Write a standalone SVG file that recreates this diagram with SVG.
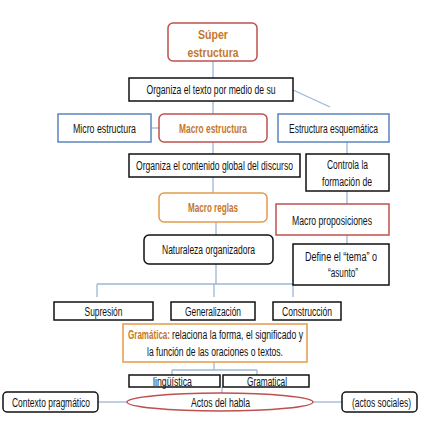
<svg xmlns="http://www.w3.org/2000/svg" width="426" height="426" viewBox="0 0 426 426">
<style>
text{font-family:"Liberation Sans",Arial,sans-serif;font-size:12.5px;fill:#111;text-anchor:middle}
.or{fill:#c5772d;font-weight:bold}
.st{text-anchor:start}
.bk{fill:#fff;stroke:#111;stroke-width:1.5}
.bl{fill:#fff;stroke:#5b84bd;stroke-width:1.5}
.rd{fill:#fff;stroke:#c0504d;stroke-width:1.5}
.og{fill:#fff;stroke:#e39a4c;stroke-width:1.5}
.c{stroke:#9db6d6;stroke-width:1.3;fill:none}
</style>
<rect width="426" height="426" fill="#fff"/>
<g id="connectors">
<line class="c" x1="213" y1="61" x2="213" y2="78"/>
<line class="c" x1="293" y1="90" x2="330" y2="107"/>
<line class="c" x1="213" y1="101" x2="213" y2="114"/>
<line class="c" x1="151" y1="128" x2="159" y2="128"/>
<line class="c" x1="213" y1="142" x2="213" y2="154"/>
<line class="c" x1="213" y1="177" x2="213" y2="193"/>
<line class="c" x1="347" y1="142" x2="347" y2="154"/>
<line class="c" x1="347" y1="191" x2="347" y2="204"/>
<line class="c" x1="347" y1="235" x2="347" y2="244"/>
<line class="c" x1="216" y1="222" x2="216" y2="284"/>
<line class="c" x1="97" y1="284" x2="293" y2="284"/>
<line class="c" x1="97" y1="284" x2="97" y2="297"/>
<line class="c" x1="214" y1="284" x2="214" y2="297"/>
<line class="c" x1="293" y1="284" x2="293" y2="297"/>
<line class="c" x1="214" y1="362" x2="214" y2="370"/>
<line class="c" x1="172" y1="370" x2="257" y2="370"/>
<line class="c" x1="172" y1="370" x2="172" y2="375"/>
<line class="c" x1="257" y1="370" x2="257" y2="375"/>
<line class="c" x1="222" y1="387" x2="222" y2="393"/>
<line class="c" x1="98" y1="402" x2="127" y2="402"/>
<line class="c" x1="313" y1="402" x2="342" y2="402"/>
</g>
<g id="super">
<rect class="rd" x="168" y="23" width="89" height="38" rx="5"/>
<text class="or" x="213" y="39" font-size="15" textLength="30" lengthAdjust="spacingAndGlyphs">Súper</text>
<text class="or" x="213" y="57" font-size="15" textLength="51" lengthAdjust="spacingAndGlyphs">estructura</text>
</g>
<g id="organiza">
<rect class="bk" x="129" y="78" width="164" height="23"/>
<text x="211" y="94" textLength="129" lengthAdjust="spacingAndGlyphs">Organiza el texto por medio de su</text>
</g>
<g id="micro">
<rect class="bl" x="58" y="114" width="93" height="28"/>
<text x="104.5" y="132.5" textLength="63" lengthAdjust="spacingAndGlyphs">Micro estructura</text>
</g>
<g id="macro">
<rect class="rd" x="159" y="114" width="108" height="28" rx="5"/>
<text class="or" x="213" y="132.5" textLength="68" lengthAdjust="spacingAndGlyphs">Macro estructura</text>
</g>
<g id="esquematica">
<rect class="bl" x="278" y="114" width="111" height="28"/>
<text x="333.5" y="132.5" textLength="89" lengthAdjust="spacingAndGlyphs">Estructura esquemática</text>
</g>
<g id="contenido">
<rect class="bk" x="129" y="154" width="171" height="23"/>
<text x="214.5" y="170" textLength="157" lengthAdjust="spacingAndGlyphs">Organiza el contenido global del discurso</text>
</g>
<g id="controla">
<rect class="bk" x="306" y="154" width="83" height="37"/>
<text x="347.5" y="168.5" font-size="12" textLength="41" lengthAdjust="spacingAndGlyphs">Controla la</text>
<text x="347" y="186" font-size="12" textLength="50" lengthAdjust="spacingAndGlyphs">formación de</text>
</g>
<g id="reglas">
<rect class="og" x="159" y="193" width="108" height="29" rx="5"/>
<text class="or" x="213" y="212" textLength="50" lengthAdjust="spacingAndGlyphs">Macro reglas</text>
</g>
<g id="proposiciones">
<rect class="rd" x="276" y="204" width="113" height="31"/>
<text x="332" y="225" textLength="80" lengthAdjust="spacingAndGlyphs">Macro proposiciones</text>
</g>
<g id="naturaleza">
<rect class="bk" x="144" y="235" width="129" height="29" rx="5"/>
<text x="208.5" y="254" textLength="93" lengthAdjust="spacingAndGlyphs">Naturaleza organizadora</text>
</g>
<g id="define">
<rect class="bk" x="293" y="244" width="96" height="41"/>
<text x="341" y="261" textLength="72" lengthAdjust="spacingAndGlyphs">Define el “tema” o</text>
<text x="343" y="277" textLength="30" lengthAdjust="spacingAndGlyphs">“asunto”</text>
</g>
<g id="supresion">
<rect class="bk" x="54" y="302" width="99" height="18"/>
<text x="103.5" y="315.5" textLength="38" lengthAdjust="spacingAndGlyphs">Supresión</text>
</g>
<g id="generalizacion">
<rect class="bk" x="171" y="302" width="84" height="18"/>
<text x="213" y="315.5" textLength="56" lengthAdjust="spacingAndGlyphs">Generalización</text>
</g>
<g id="construccion">
<rect class="bk" x="273" y="302" width="68" height="18"/>
<text x="307" y="315.5" textLength="50" lengthAdjust="spacingAndGlyphs">Construcción</text>
</g>
<g id="gramatica">
<rect class="og" x="123" y="324" width="184" height="38"/>
<text class="or st" x="128" y="339" textLength="42" lengthAdjust="spacingAndGlyphs">Gramática:</text>
<text class="st" x="172" y="339" textLength="131" lengthAdjust="spacingAndGlyphs">relaciona la forma, el significado y</text>
<text x="215" y="356" textLength="136" lengthAdjust="spacingAndGlyphs">la función de las oraciones o textos.</text>
</g>
<g id="linguistica">
<rect class="bk" x="129" y="375" width="91" height="12"/>
<text x="172.5" y="385.5" font-size="11.5" textLength="39" lengthAdjust="spacingAndGlyphs">lingüística</text>
</g>
<g id="gramatical">
<rect class="bk" x="223" y="375" width="86" height="12"/>
<text x="267" y="385.5" font-size="11.5" textLength="40" lengthAdjust="spacingAndGlyphs">Gramatical</text>
</g>
<g id="actos">
<ellipse cx="220" cy="402" rx="93" ry="9" fill="#fff" stroke="#c0504d" stroke-width="1.5"/>
<text x="220.5" y="406.5" textLength="59" lengthAdjust="spacingAndGlyphs">Actos del habla</text>
</g>
<g id="contexto">
<rect class="bk" x="3" y="392" width="95" height="20" rx="4"/>
<text x="51" y="406.5" textLength="78" lengthAdjust="spacingAndGlyphs">Contexto pragmático</text>
</g>
<g id="sociales">
<rect class="bk" x="342" y="392" width="75" height="20" rx="4"/>
<text x="381.5" y="406.5" textLength="59" lengthAdjust="spacingAndGlyphs">(actos sociales)</text>
</g>
</svg>
